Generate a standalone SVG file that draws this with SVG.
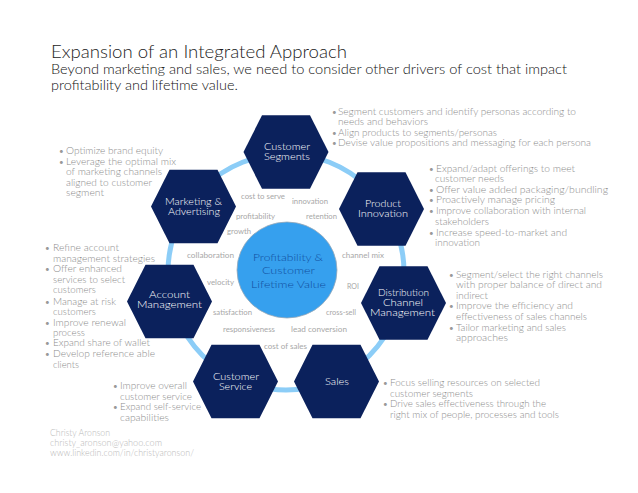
<svg xmlns="http://www.w3.org/2000/svg" width="638" height="493" viewBox="0 0 638 493">
<style>
text{font-family:"Lato","Liberation Sans",Arial,sans-serif;font-weight:300;}
.h1{font-size:17.5px;fill:#1c1c1c}
.h2{font-size:13.6px;fill:#111}
.b{font-size:8px;fill:#999;font-weight:400}
.d{font-size:8.7px;fill:#8c8c8c}
.m{font-size:7.4px;fill:#a8a8a8;font-weight:400}
.f{font-size:8.7px;fill:#b8b8b8}
.n{font-size:9.4px;fill:#fff}
.c{font-size:10.5px;fill:#124f9f}
.hex{fill:#0b215c}
.ring{fill:none;stroke:#8ccdf7;stroke-width:5}
</style>
<defs><polygon id="hx" class="hex" points="-42.5,0 -24,-36.8 24,-36.8 42.5,0 24,36.8 -24,36.8"/></defs>
<g id="title">
<text class="h1" x="51" y="58" textLength="296" lengthAdjust="spacingAndGlyphs">Expansion of an Integrated Approach</text>
<text class="h2" x="51" y="74" textLength="516" lengthAdjust="spacingAndGlyphs">Beyond marketing and sales, we need to consider other drivers of cost that impact</text>
<text class="h2" x="51" y="89.5" textLength="187" lengthAdjust="spacingAndGlyphs">profitability and lifetime value.</text>
</g>
<g id="connectors"><circle class="ring" cx="286" cy="272" r="118"/></g>
<g id="customer-segments">
<use href="#hx" x="286" y="152"/>
<text class="n" x="264" y="150" textLength="46" lengthAdjust="spacingAndGlyphs">Customer</text>
<text class="n" x="264" y="160" textLength="46" lengthAdjust="spacingAndGlyphs">Segments</text>
<text class="b" x="332" y="115">•</text><text class="d" x="338" y="115" textLength="238" lengthAdjust="spacingAndGlyphs">Segment customers and identify personas according to</text>
<text class="d" x="338" y="125" textLength="90" lengthAdjust="spacingAndGlyphs">needs and behaviors</text>
<text class="b" x="332" y="136">•</text><text class="d" x="338" y="136" textLength="159" lengthAdjust="spacingAndGlyphs">Align products to segments/personas</text>
<text class="b" x="332" y="146">•</text><text class="d" x="338" y="146" textLength="253" lengthAdjust="spacingAndGlyphs">Devise value propositions and messaging for each persona</text>
</g>
<g id="marketing-advertising">
<use href="#hx" x="193.5" y="206.5"/>
<text class="n" x="165" y="205" textLength="57" lengthAdjust="spacingAndGlyphs">Marketing &amp;</text>
<text class="n" x="168" y="215" textLength="52" lengthAdjust="spacingAndGlyphs">Advertising</text>
<text class="b" x="59" y="154">•</text><text class="d" x="66" y="154" textLength="97" lengthAdjust="spacingAndGlyphs">Optimize brand equity</text>
<text class="b" x="59" y="165">•</text><text class="d" x="66" y="165" textLength="110" lengthAdjust="spacingAndGlyphs">Leverage the optimal mix</text>
<text class="d" x="66" y="175" textLength="96" lengthAdjust="spacingAndGlyphs">of marketing channels</text>
<text class="d" x="66" y="186" textLength="86" lengthAdjust="spacingAndGlyphs">aligned to customer</text>
<text class="d" x="66" y="196" textLength="38" lengthAdjust="spacingAndGlyphs">segment</text>
</g>
<g id="product-innovation">
<use href="#hx" x="381.5" y="209"/>
<text class="n" x="365" y="207" textLength="36" lengthAdjust="spacingAndGlyphs">Product</text>
<text class="n" x="358" y="217" textLength="50" lengthAdjust="spacingAndGlyphs">Innovation</text>
<text class="b" x="429" y="172">•</text><text class="d" x="436" y="172" textLength="139" lengthAdjust="spacingAndGlyphs">Expand/adapt offerings to meet</text>
<text class="d" x="435" y="182" textLength="69" lengthAdjust="spacingAndGlyphs">customer needs</text>
<text class="b" x="429" y="193">•</text><text class="d" x="436" y="193" textLength="172" lengthAdjust="spacingAndGlyphs">Offer value added packaging/bundling</text>
<text class="b" x="429" y="203">•</text><text class="d" x="436" y="203" textLength="119" lengthAdjust="spacingAndGlyphs">Proactively manage pricing</text>
<text class="b" x="429" y="214">•</text><text class="d" x="436" y="214" textLength="150" lengthAdjust="spacingAndGlyphs">Improve collaboration with internal</text>
<text class="d" x="435" y="225" textLength="54" lengthAdjust="spacingAndGlyphs">stakeholders</text>
<text class="b" x="429" y="236">•</text><text class="d" x="436" y="236" textLength="131" lengthAdjust="spacingAndGlyphs">Increase speed-to-market and</text>
<text class="d" x="435" y="246" textLength="45" lengthAdjust="spacingAndGlyphs">innovation</text>
</g>
<g id="distribution-channel-management">
<use href="#hx" x="403.5" y="303"/>
<text class="n" x="378" y="296" textLength="51" lengthAdjust="spacingAndGlyphs">Distribution</text>
<text class="n" x="383" y="306" textLength="40" lengthAdjust="spacingAndGlyphs">Channel</text>
<text class="n" x="370" y="316" textLength="65" lengthAdjust="spacingAndGlyphs">Management</text>
<text class="b" x="449" y="278">•</text><text class="d" x="456" y="278" textLength="147" lengthAdjust="spacingAndGlyphs">Segment/select the right channels</text>
<text class="d" x="456" y="288" textLength="146" lengthAdjust="spacingAndGlyphs">with proper balance of direct and</text>
<text class="d" x="456" y="299" textLength="32" lengthAdjust="spacingAndGlyphs">indirect</text>
<text class="b" x="449" y="309">•</text><text class="d" x="456" y="309" textLength="117" lengthAdjust="spacingAndGlyphs">Improve the efficiency and</text>
<text class="d" x="456" y="320" textLength="131" lengthAdjust="spacingAndGlyphs">effectiveness of sales channels</text>
<text class="b" x="449" y="331">•</text><text class="d" x="456" y="331" textLength="110" lengthAdjust="spacingAndGlyphs">Tailor marketing and sales</text>
<text class="d" x="456" y="341" textLength="52" lengthAdjust="spacingAndGlyphs">approaches</text>
</g>
<g id="sales">
<use href="#hx" x="336.5" y="381.5"/>
<text class="n" x="325" y="385" textLength="24" lengthAdjust="spacingAndGlyphs">Sales</text>
<text class="b" x="383" y="386">•</text><text class="d" x="390" y="386" textLength="150" lengthAdjust="spacingAndGlyphs">Focus selling resources on selected</text>
<text class="d" x="390" y="397" textLength="83" lengthAdjust="spacingAndGlyphs">customer segments</text>
<text class="b" x="383" y="407">•</text><text class="d" x="390" y="407" textLength="156" lengthAdjust="spacingAndGlyphs">Drive sales effectiveness through the</text>
<text class="d" x="390" y="418" textLength="169" lengthAdjust="spacingAndGlyphs">right mix of people, processes and tools</text>
</g>
<g id="customer-service">
<use href="#hx" x="235.5" y="381.5"/>
<text class="n" x="213" y="380" textLength="46" lengthAdjust="spacingAndGlyphs">Customer</text>
<text class="n" x="219" y="389.5" textLength="33" lengthAdjust="spacingAndGlyphs">Service</text>
<text class="b" x="113" y="389">•</text><text class="d" x="120" y="389" textLength="67" lengthAdjust="spacingAndGlyphs">Improve overall</text>
<text class="d" x="120" y="400" textLength="72" lengthAdjust="spacingAndGlyphs">customer service</text>
<text class="b" x="113" y="410">•</text><text class="d" x="120" y="410" textLength="81" lengthAdjust="spacingAndGlyphs">Expand self-service</text>
<text class="d" x="120" y="421" textLength="49" lengthAdjust="spacingAndGlyphs">capabilities</text>
</g>
<g id="account-management">
<use href="#hx" x="169.5" y="301.5"/>
<text class="n" x="149" y="298" textLength="41" lengthAdjust="spacingAndGlyphs">Account</text>
<text class="n" x="137" y="307.5" textLength="65" lengthAdjust="spacingAndGlyphs">Management</text>
<text class="b" x="45" y="251">•</text><text class="d" x="53" y="251" textLength="66" lengthAdjust="spacingAndGlyphs">Refine account</text>
<text class="d" x="53" y="262" textLength="102" lengthAdjust="spacingAndGlyphs">management strategies</text>
<text class="b" x="45" y="272">•</text><text class="d" x="53" y="272" textLength="69" lengthAdjust="spacingAndGlyphs">Offer enhanced</text>
<text class="d" x="53" y="283" textLength="72" lengthAdjust="spacingAndGlyphs">services to select</text>
<text class="d" x="53" y="293" textLength="43" lengthAdjust="spacingAndGlyphs">customers</text>
<text class="b" x="45" y="305">•</text><text class="d" x="53" y="305" textLength="63" lengthAdjust="spacingAndGlyphs">Manage at risk</text>
<text class="d" x="53" y="315" textLength="43" lengthAdjust="spacingAndGlyphs">customers</text>
<text class="b" x="45" y="326">•</text><text class="d" x="53" y="326" textLength="73" lengthAdjust="spacingAndGlyphs">Improve renewal</text>
<text class="d" x="53" y="336" textLength="32" lengthAdjust="spacingAndGlyphs">process</text>
<text class="b" x="45" y="346">•</text><text class="d" x="53" y="346" textLength="97" lengthAdjust="spacingAndGlyphs">Expand share of wallet</text>
<text class="b" x="45" y="357">•</text><text class="d" x="53" y="357" textLength="102" lengthAdjust="spacingAndGlyphs">Develop reference able</text>
<text class="d" x="53" y="368" textLength="26" lengthAdjust="spacingAndGlyphs">clients</text>
</g>
<g id="profitability-center">
<ellipse cx="287" cy="270" rx="50" ry="48" fill="#36a0ee" stroke="#9aa9b8" stroke-width="0.8"/>
<text class="c" x="253" y="261" textLength="70" lengthAdjust="spacingAndGlyphs">Profitability &amp;</text>
<text class="c" x="262" y="274" textLength="53" lengthAdjust="spacingAndGlyphs">Customer</text>
<text class="c" x="251" y="288" textLength="75" lengthAdjust="spacingAndGlyphs">Lifetime Value</text>
</g>
<g id="metrics">
<text class="m" x="241" y="199" textLength="44" lengthAdjust="spacingAndGlyphs">cost to serve</text>
<text class="m" x="292" y="204" textLength="36" lengthAdjust="spacingAndGlyphs">innovation</text>
<text class="m" x="236" y="219" textLength="39" lengthAdjust="spacingAndGlyphs">profitability</text>
<text class="m" x="306" y="219" textLength="31" lengthAdjust="spacingAndGlyphs">retention</text>
<text class="m" x="227" y="234" textLength="24" lengthAdjust="spacingAndGlyphs">growth</text>
<text class="m" x="187" y="258" textLength="47" lengthAdjust="spacingAndGlyphs">collaboration</text>
<text class="m" x="342" y="258" textLength="42" lengthAdjust="spacingAndGlyphs">channel mix</text>
<text class="m" x="207" y="285" textLength="27" lengthAdjust="spacingAndGlyphs">velocity</text>
<text class="m" x="347" y="289" textLength="12" lengthAdjust="spacingAndGlyphs">ROI</text>
<text class="m" x="213" y="315" textLength="39" lengthAdjust="spacingAndGlyphs">satisfaction</text>
<text class="m" x="326" y="315" textLength="30" lengthAdjust="spacingAndGlyphs">cross-sell</text>
<text class="m" x="223" y="332" textLength="52" lengthAdjust="spacingAndGlyphs">responsiveness</text>
<text class="m" x="291" y="332" textLength="56" lengthAdjust="spacingAndGlyphs">lead conversion</text>
<text class="m" x="264" y="349" textLength="43" lengthAdjust="spacingAndGlyphs">cost of sales</text>
</g>
<g id="footer">
<text class="f" x="50" y="436" textLength="60" lengthAdjust="spacingAndGlyphs">Christy Aronson</text>
<text class="f" x="50" y="446" textLength="112" lengthAdjust="spacingAndGlyphs">christy_aronson@yahoo.com</text>
<text class="f" x="50" y="456" textLength="144" lengthAdjust="spacingAndGlyphs">www.linkedin.com/in/christyaronson/</text>
</g>
</svg>
